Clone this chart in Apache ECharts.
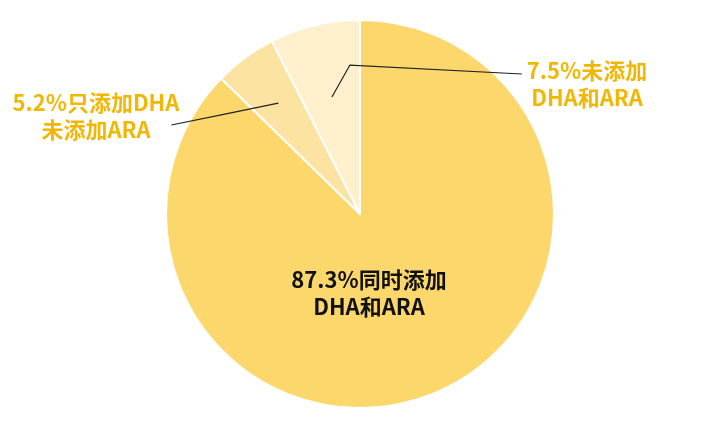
<!DOCTYPE html>
<html>
<head>
<meta charset="utf-8">
<script src="https://cdn.jsdelivr.net/npm/echarts@6/dist/echarts.min.js"></script>
<style>
    html, body { margin: 0; padding: 0; background: #fff; }
    #main { width: 720px; height: 430px; }
</style>
</head>
<body>
<div id="main"></div>
<script>
// 数据
var names = ['同时添加\nDHA和ARA', '只添加DHA\n未添加ARA', '未添加\nDHA和ARA'];
var values = [87.3, 5.2, 7.5];
var colors = ['#FCD76C', '#FCE3A1', '#FEF0CD'];
var labelColors = ['#111111', '#F2B705', '#F2B705'];

var cx = 360;
var cy = 214;
var R = 194;

// 扇区中间角度（度）
function midAngle(i) {
    var total = 0;
    for (var k = 0; k < values.length; k++) total += values[k];
    var before = 0;
    for (var j = 0; j < i; j++) before += values[j];
    return 90 - 360 * (before + values[i] / 2) / total;
}

function pointAt(angle, r) {
    var a = angle * Math.PI / 180;
    return [cx + r * Math.cos(a), cy - r * Math.sin(a)];
}

function labelLayout(params) {
    var i = params.dataIndex;
    var w = params.labelRect.width;
    var h = params.labelRect.height;
    if (i === 0) {
        return { x: 369, y: 293, align: 'center', verticalAlign: 'middle' };
    }
    if (i === 1) {
        var lx = 96, ly = 116;
        var s = pointAt(midAngle(i), R * 0.71);
        var e = [lx + w / 2 - 8, ly + 9];
        return {
            x: lx, y: ly, align: 'center', verticalAlign: 'middle',
            labelLinePoints: [s, [(s[0] + e[0]) / 2, (s[1] + e[1]) / 2], e]
        };
    }
    var rx = 587, ry = 84;
    var s2 = pointAt(midAngle(i), R * 0.62);
    var b2 = [s2[0] + 18, s2[1] - 32];
    var e2 = [rx - w / 2 - 5, ry - h / 2 + 17];
    return {
        x: rx, y: ry, align: 'center', verticalAlign: 'middle',
        labelLinePoints: [s2, b2, e2]
    };
}

function buildData(withColor) {
    var data = [];
    for (var i = 0; i < values.length; i++) {
        data.push({
            name: names[i],
            value: values[i],
            itemStyle: { color: withColor ? colors[i] : 'rgba(0,0,0,0)' },
            label: {
                color: labelColors[i],
                position: i === 0 ? 'inside' : 'outside'
            },
            labelLine: { show: i !== 0 }
        });
    }
    return data;
}

function setData() {
    var myChart = echarts.init(document.getElementById('main'));
    var option = {
        animation: false,
        series: [
            {
                type: 'pie',
                center: [cx, cy],
                radius: [0, R],
                startAngle: 90,
                clockwise: true,
                silent: true,
                itemStyle: { borderColor: '#ffffff', borderWidth: 2 },
                label: { show: false },
                labelLine: { show: false },
                data: buildData(true)
            },
            {
                // 透明的一层，只画标签和引导线
                type: 'pie',
                z: 5,
                center: [cx, cy],
                radius: [0, R],
                startAngle: 90,
                clockwise: true,
                silent: true,
                avoidLabelOverlap: false,
                itemStyle: { borderWidth: 0 },
                label: {
                    formatter: '{c}%{b}',
                    fontFamily: 'Noto Sans CJK SC',
                    fontWeight: 'bold',
                    fontSize: 22,
                    lineHeight: 27,
                    align: 'center'
                },
                labelLine: {
                    lineStyle: { color: '#222222', width: 1.2 }
                },
                labelLayout: labelLayout,
                data: buildData(false)
            }
        ]
    };
    myChart.setOption(option);
}

setData();
</script>
</body>
</html>
